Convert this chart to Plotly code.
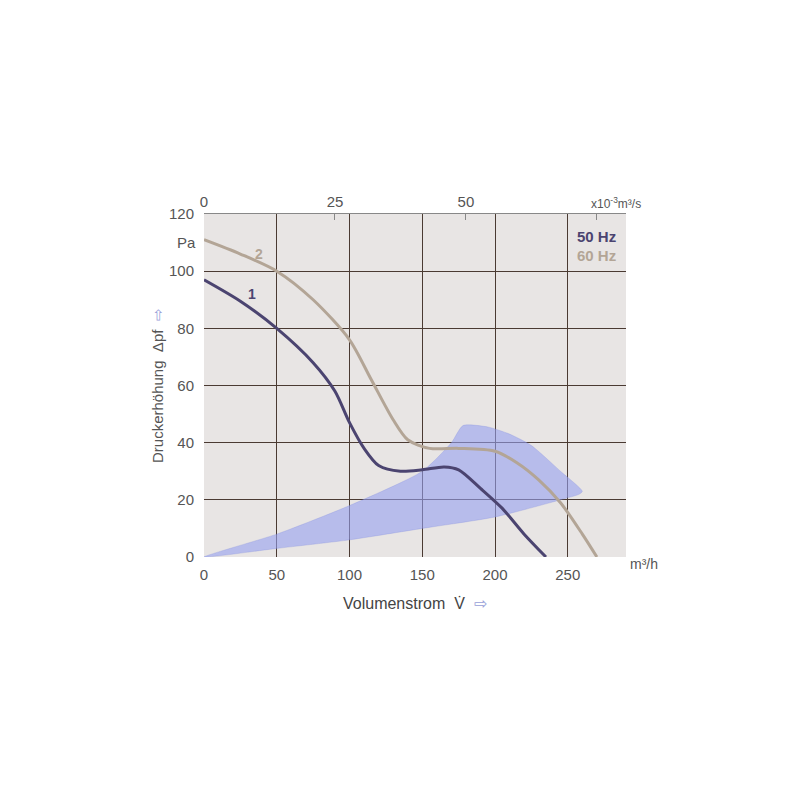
import plotly.graph_objects as go

c1_x = [0, 25, 50, 75, 90, 100, 110, 120, 135, 150, 165, 175, 190, 205, 220, 235]
c1_y = [97, 89.5, 80, 68, 58, 47, 38, 32, 30, 30.5, 31.5, 30.5, 24, 17, 8, 0]
c2_x = [0, 25, 50, 75, 100, 115, 130, 140, 155, 175, 200, 215, 230, 245, 260, 270]
c2_y = [111, 106, 100, 90, 76, 62, 48, 41, 38, 38, 37, 33, 27, 19, 8, 0]
reg_x = [0, 50, 100, 150, 200, 245, 258, 260, 245, 225, 210, 195, 178, 170, 150, 100, 50, 0]
reg_y = [0, 3, 6, 10, 14, 20, 22, 23, 30, 39, 43, 45.5, 46, 40, 30, 18, 8, 0]
x_ticks = [0, 50, 100, 150, 200, 250]
y_ticks = [0, 20, 40, 60, 80, 100, 120]
top_ticks = [0, 25, 50, 75]
top_labels = ["0", "25", "50", ""]

grid = "#4a3a32"
fig = go.Figure()
fig.add_trace(go.Scatter(x=reg_x, y=reg_y, fill="toself", mode="lines",
                         line=dict(color="rgba(120,130,220,0.5)", width=0.5, shape="spline", smoothing=0.6),
                         fillcolor="rgba(150,160,240,0.6)", hoverinfo="skip"))
fig.add_trace(go.Scatter(x=c1_x, y=c1_y, mode="lines", line=dict(color="#4b4470", width=3, shape="spline", smoothing=0.8)))
fig.add_trace(go.Scatter(x=c2_x, y=c2_y, mode="lines", line=dict(color="#b3a596", width=3, shape="spline", smoothing=0.8)))
fig.add_trace(go.Scatter(x=[0], y=[0], xaxis="x2", mode="markers", marker=dict(opacity=0), hoverinfo="skip"))

hid = "rgba(0,0,0,0)"
fig.update_layout(
    width=800, height=800, showlegend=False,
    paper_bgcolor="white", plot_bgcolor="#e8e5e4",
    margin=dict(l=196, r=182, t=206, b=251, autoexpand=False),
    font=dict(family="Liberation Sans", size=15, color="#555"),
    xaxis=dict(range=[0, 290], tickvals=x_ticks, showgrid=True, gridcolor=grid, gridwidth=1, automargin=False,
               zeroline=False, showline=False, ticks="outside", ticklen=4, tickcolor=hid,
               tickfont=dict(size=15, color="#555")),
    xaxis2=dict(overlaying="x", side="top", range=[0, 290 / 3.6], tickvals=top_ticks, ticktext=top_labels,
                showgrid=False, showline=True, linecolor="#888", ticks="inside", ticklen=6, tickcolor="#888",
                zeroline=False, automargin=False, tickfont=dict(size=15, color="#555")),
    yaxis=dict(range=[0, 120], tickvals=y_ticks, showgrid=True, gridcolor=grid, gridwidth=1, automargin=False,
               zeroline=False, showline=False, ticks="outside", ticklen=6, tickcolor=hid,
               tickfont=dict(size=15, color="#555")),
)
ann = [
    dict(x=-0.015, y=110, xref="paper", yref="y", text="Pa", showarrow=False, xanchor="right", font=dict(size=15)),
    dict(x=-0.135, y=0.5, xref="paper", yref="paper", text="Druckerhöhung  Δpf  <span style='color:#99a0d8'>⇨</span>",
         textangle=-90, showarrow=False, font=dict(size=15)),
    dict(x=0.5, y=-0.137, xref="paper", yref="paper", yanchor="middle",
         text="Volumenstrom  V̇  <span style='color:#99a0d8'>⇨</span>",
         showarrow=False, font=dict(size=16, color="#444")),
    dict(x=1.005, y=-0.05, xref="paper", yref="paper", text="m³/h", showarrow=False, xanchor="left", font=dict(size=14)),
    dict(x=1.04, y=1.06, xref="paper", yref="paper", text="x10<sup>-3</sup>m³/s", showarrow=False, xanchor="right",
         font=dict(size=12)),
    dict(x=0.98, y=0.935, xref="paper", yref="paper", text="<b>50 Hz</b>", showarrow=False, xanchor="right",
         yanchor="middle", font=dict(size=15, color="#4b4470")),
    dict(x=0.98, y=0.88, xref="paper", yref="paper", text="<b>60 Hz</b>", showarrow=False, xanchor="right",
         yanchor="middle", font=dict(size=15, color="#b3a596")),
    dict(x=33, y=92, text="<b>1</b>", showarrow=False, font=dict(size=14, color="#4b4470")),
    dict(x=38, y=106, text="<b>2</b>", showarrow=False, font=dict(size=14, color="#b3a596")),
]
fig.update_layout(annotations=ann)
fig.write_html("out.html")
